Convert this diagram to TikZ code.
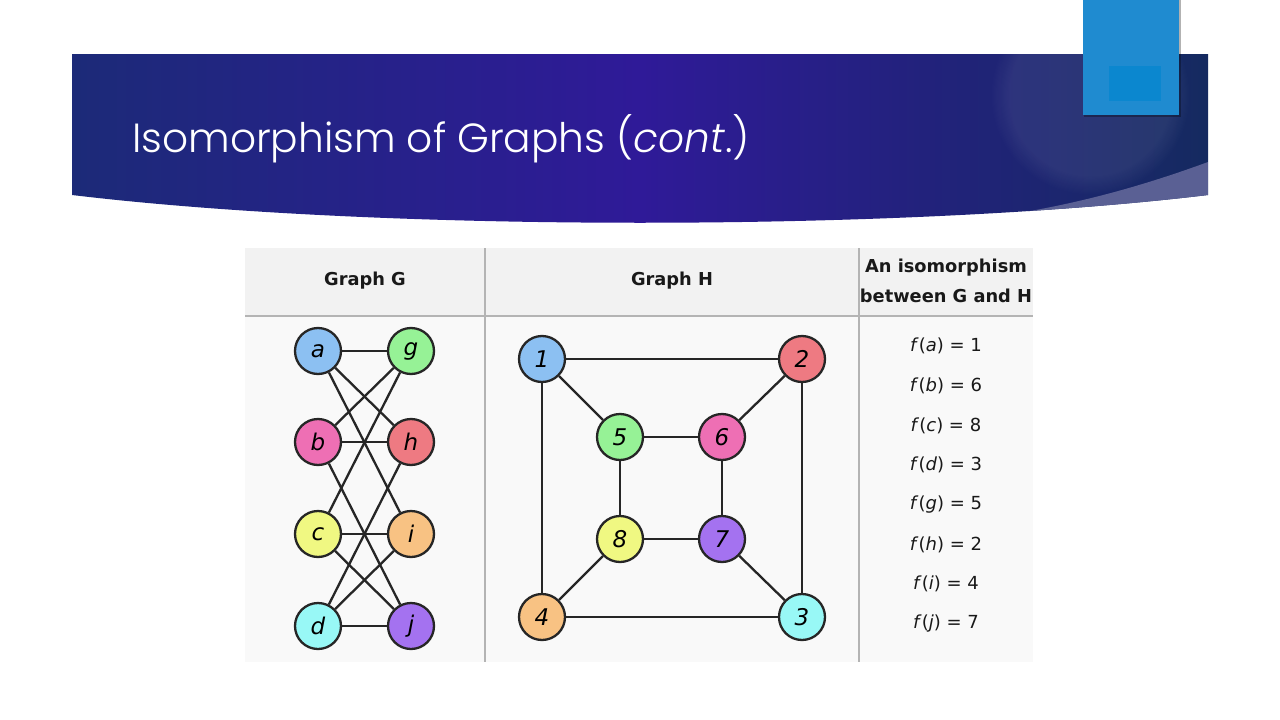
\documentclass[tikz,border=0pt]{standalone}
\usepackage{fontspec}
\setmainfont{DejaVu Sans}
\newfontfamily\titlefont{Poppins}[UprightFont=* Light, ItalicFont=* Light Italic]
\usetikzlibrary{fadings}

% vertex colours
\definecolor{cblue}{HTML}{8CC0F2}
\definecolor{cgreen}{HTML}{96F296}
\definecolor{cpink}{HTML}{EE6FB4}
\definecolor{cred}{HTML}{EE7A82}
\definecolor{cyellow}{HTML}{F0F882}
\definecolor{corange}{HTML}{F8C283}
\definecolor{ccyan}{HTML}{98F8F6}
\definecolor{cpurple}{HTML}{A472F0}
% slide colours
\definecolor{bnleft}{HTML}{1C2A78}
\definecolor{bnmid}{HTML}{2F1A98}
\definecolor{bnright}{HTML}{152A60}
\definecolor{swoosh}{HTML}{5A6094}
\definecolor{tabblue}{HTML}{1F8BD0}
\definecolor{tabinner}{HTML}{0B87CF}
\definecolor{hdbg}{HTML}{F2F2F2}
\definecolor{bodybg}{HTML}{F9F9F9}
\definecolor{rulegray}{HTML}{B4B4B4}

\tikzset{
  vtx/.style={circle, draw=black!85, line width=2.3pt, minimum size=46pt,
    inner sep=0pt, font=\fontsize{23}{23}\selectfont\itshape},
  edge/.style={draw=black!85, line width=2.3pt},
  headtxt/.style={font=\fontsize{17.8}{30}\selectfont\bfseries, text=black!90},
  maptxt/.style={font=\fontsize{18}{20}\selectfont, text=black!90},
  titletxt/.style={font=\titlefont\fontsize{40.7}{41}\selectfont, text=white}
}

\begin{document}
\begin{tikzpicture}[x=1pt, y=-1pt]
  \useasboundingbox (0,0) rectangle (1280,720);
  \fill[white] (0,0) rectangle (1280,720);

  % Banner with curved lower edge
  \def\bannerpath{(72,54) -- (1208,54) -- (1208,195)
    .. controls (900,232) and (380,232) .. (72,195) -- cycle}
  \shade[left color=bnleft, right color=bnright, middle color=bnmid] \bannerpath;
  \begin{scope}
    \clip \bannerpath;
    \fill[swoosh] (1208,162) .. controls (1110,198) and (1030,214) .. (950,222)
      -- (950,240) -- (1210,240) -- cycle;
    \fill[white, fill opacity=0.07, path fading=circle with fuzzy edge 20 percent]
      (1090,95) circle (100);
  \end{scope}

  % Blue tab
  \fill[black, opacity=0.3] (1084,0) rectangle (1181,117);
  \fill[tabblue] (1083,0) rectangle (1179,115);
  \fill[tabinner] (1109,66) rectangle (1161,101);

  \node[titletxt, anchor=base west, inner sep=0pt] (title) at (132,152)
    {Isomorphism of Graphs (\textit{cont}.)};

  % Table
  \fill[hdbg] (245,248) rectangle (1033,316);
  \fill[bodybg] (245,316) rectangle (1033,662);
  \draw[rulegray, line width=1.2pt] (245,316) -- (1033,316);
  \draw[rulegray, line width=1.2pt] (485,248) -- (485,662);
  \draw[rulegray, line width=1.2pt] (859,248) -- (859,662);

  \node[headtxt] (headG) at (365,281) {Graph G};
  \node[headtxt] (headH) at (672,281) {Graph H};
  \node[headtxt, align=center] (headF) at (946,281) {An isomorphism\\between G and H};

  % Graph G
  \foreach \n/\x/\y/\c in {a/318/351/cblue, g/411/351/cgreen, b/318/442/cpink,
      h/411/442/cred, c/318/534/cyellow, i/411/534/corange, d/318/626/ccyan,
      j/411/626/cpurple} {
    \node[vtx, fill=\c] (\n) at (\x,\y) {\n};
  }
  \foreach \u/\v in {a/g, a/h, a/i, b/g, b/h, b/j, c/g, c/i, c/j, d/h, d/i, d/j} {
    \draw[edge] (\u) -- (\v);
  }

  % Graph H
  \foreach \n/\x/\y/\c in {1/542/359/cblue, 2/802/359/cred, 3/802/617/ccyan,
      4/542/617/corange, 5/620/437/cgreen, 6/722/437/cpink, 7/722/539/cpurple,
      8/620/539/cyellow} {
    \node[vtx, fill=\c] (v\n) at (\x,\y) {\n};
  }
  \foreach \u/\v in {1/2, 2/3, 3/4, 4/1, 5/6, 6/7, 7/8, 8/5, 1/5, 2/6, 3/7, 4/8} {
    \draw[edge] (v\u) -- (v\v);
  }

  % Mapping f
  \foreach \s/\t [count=\k from 0] in {a/1, b/6, c/8, d/3, g/5, h/2, i/4, j/7} {
    \node[maptxt] (map\s) at (946,{346+39.7*\k}) {\textit{f}(\textit{\s}) = \t};
  }
\end{tikzpicture}
\end{document}
